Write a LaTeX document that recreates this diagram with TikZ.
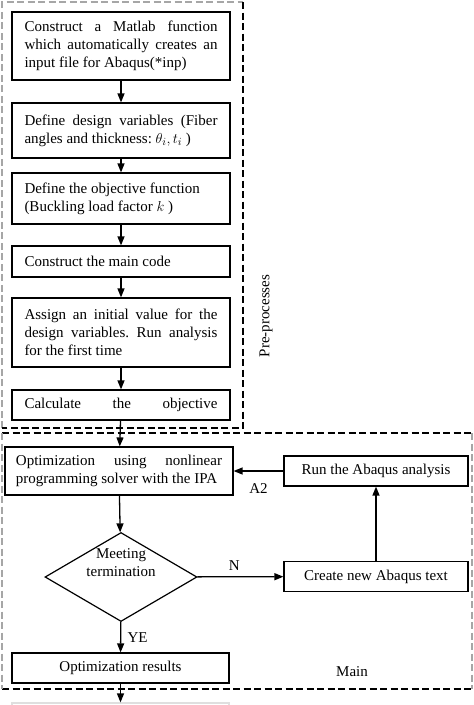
\documentclass[tikz,border=0pt]{standalone}
\usepackage{fontspec}
\setmainfont{Liberation Serif}
\usetikzlibrary{shapes.geometric, arrows.meta}

\begin{document}
\frenchspacing
\begin{tikzpicture}[x=1pt, y=-1pt, font=\fontsize{15}{18}\selectfont,
    procbox/.style={draw, line width=1.2pt, text width=193pt, inner xsep=12.5pt, inner ysep=0pt, align=justify},
    sidebox/.style={draw, line width=1.2pt, minimum width=184pt, minimum height=30pt, inner sep=0pt},
    decision/.style={draw, diamond, line width=1.2pt, minimum width=152pt, minimum height=89pt, inner sep=0pt},
    frame/.style={line width=1.8pt, dash pattern=on 7pt off 3.5pt},
    flow/.style={-{Triangle[length=9pt, width=7pt]}, line width=1.3pt}]
    \useasboundingbox (0,0) rectangle (474,705);
    \clip (0,0) rectangle (474,705);
    % pre-processes
    \node[procbox, minimum height=68pt] (mfun) at (121,46) {Construct a Matlab function\linebreak which automatically creates an\linebreak input file for Abaqus(*inp)};
    \node[procbox, minimum height=55pt] (vars) at (121,130.5) {Define design variables (Fiber\linebreak angles and thickness: $\theta_i, t_i$ )};
    \node[procbox, minimum height=51pt] (obj) at (121,198.5) {Define the objective function\\(Buckling load factor $k$ )};
    \node[procbox, minimum height=31pt] (code) at (121,261.5) {Construct the main code};
    \node[procbox, minimum height=69pt] (init) at (121,332.5) {Assign an initial value for the\linebreak design variables. Run analysis\linebreak for the first time};
    \node[procbox, minimum height=30pt] (calc) at (121,405) {Calculate\hfill the\hfill objective};
    \draw[flow] (mfun) -- (vars);
    \draw[flow] (vars) -- (obj);
    \draw[flow] (obj) -- (code);
    \draw[flow] (code) -- (init);
    \draw[flow] (init) -- (calc);
    % main loop
    \node[procbox, text width=206pt, inner xsep=11pt, minimum height=48pt] (opt) at (119,471) {Optimization using nonlinear\linebreak programming solver with the IPA};
    \node[sidebox] (run) at (376,471) {Run the Abaqus analysis};
    \node[decision] (meet) at (121,577) {};
    \node[align=center] (meettxt) at (121,563) {Meeting\\termination};
    \node[sidebox] (create) at (376,576.5) {Create new Abaqus text};
    \node[draw, line width=1.2pt, minimum width=217pt, minimum height=30pt, inner sep=0pt] (res) at (120.5,668) {Optimization results};
    \node[draw=gray!25, line width=1.2pt, minimum width=217pt, minimum height=30pt] (post) at (120.5,718) {};
    \draw[flow] (calc) -- (opt);
    \draw[flow] (opt) -- (meet);
    \draw[flow] (meet) -- (create) node[midway, above, yshift=2pt, xshift=-6pt] {N};
    \draw[flow] (create) -- (run);
    \draw[flow] (run) -- (opt) node[midway, below=9pt] {A2};
    \draw[flow] (meet) -- (res) node[midway, right, xshift=3pt] {YE};
    \draw[flow] (res) -- (post);
    % frames
    \draw[frame, gray!70, line width=1.3pt] (2,428) -- (2,2) -- (243,2);
    \draw[frame] (243,2) -- (243,428) -- (2,428);
    \draw[frame] (2,433) -- (472,433);
    \draw[frame] (2,689) -- (472,689);
    \draw[frame, gray!70, line width=1.3pt] (2,433) -- (2,689);
    \draw[frame, gray!70, line width=1.3pt] (472,433) -- (472,689);
    \node[rotate=90] (pretag) at (266,316) {Pre-processes};
    \node (maintag) at (352,672) {Main};
\end{tikzpicture}
\end{document}
